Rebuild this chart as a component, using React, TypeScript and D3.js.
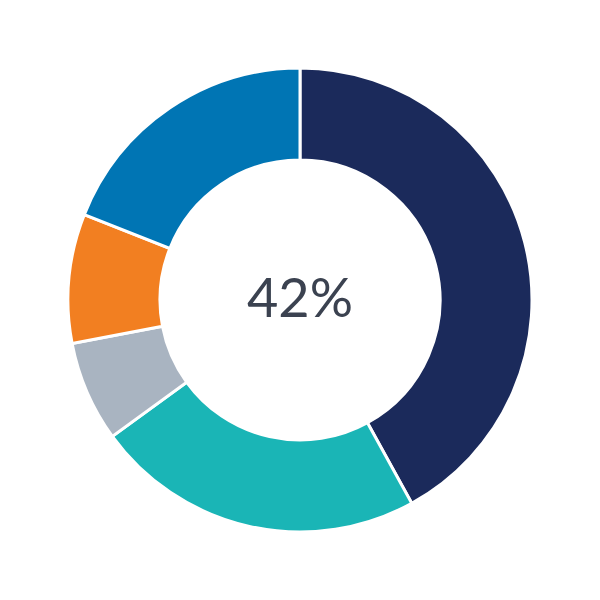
import React from "react";
import * as d3 from "d3";

const categories = ["A", "B", "C", "D", "E"];
const values = [42, 23, 7, 9, 19];
const colors = ["#1b2a5b", "#1ab5b6", "#a9b4c1", "#f27f21", "#0075b4"];
const centerLabel = "42%";

export default function App() {
  const width = 600;
  const height = 600;
  const cx = 300;
  const cy = 300;
  const outer = 232;
  const inner = 140;
  const data = categories.map((c, i) => ({ c, v: values[i], color: colors[i] }));
  const pie = d3.pie<any>().value((d) => d.v).sort(null);
  const arc = d3.arc<any>().innerRadius(inner).outerRadius(outer);
  const arcs = pie(data);
  return (
    <svg
      width={width}
      height={height}
      style={{ position: "fixed", top: 0, left: 0, background: "#fff" }}
    >
      <g transform={`translate(${cx},${cy})`}>
        {arcs.map((a, i) => (
          <path
            key={i}
            d={arc(a) as string}
            fill={a.data.color}
            stroke="#fff"
            strokeWidth={3}
          />
        ))}
        <text
          x={0}
          y={-2}
          dy="0.36em"
          textAnchor="middle"
          fontFamily="Lato, 'Open Sans', sans-serif"
          fontWeight={400}
          fontSize={54}
          fill="#3b4250"
        >
          {centerLabel}
        </text>
      </g>
    </svg>
  );
}
